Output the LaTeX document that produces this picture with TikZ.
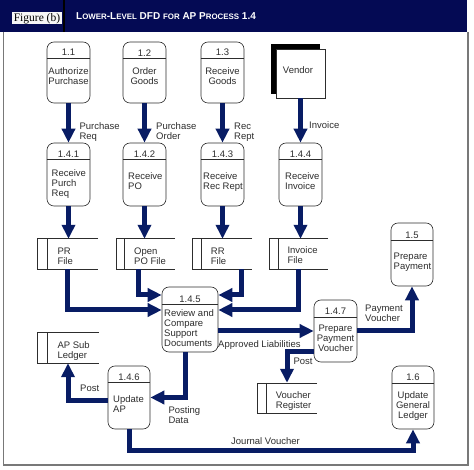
\documentclass[tikz,border=0pt]{standalone}
\usepackage{fontspec}
\setmainfont{Liberation Sans}
\newfontfamily\figserif{Liberation Serif}
\usetikzlibrary{arrows.meta}
\definecolor{flownavy}{RGB}{8,28,100}
\definecolor{barnavy}{RGB}{4,10,84}
\definecolor{inkgray}{RGB}{45,45,45}
\definecolor{framegray}{RGB}{120,120,120}
\newcommand\smallcapsx[1]{{\fontsize{7.9}{8}\selectfont #1}}
\newcommand\dfdproc[8]{%
  \node[procbox, minimum width={(#4-#2)*1pt}, minimum height={(#5-#3)*1pt}] (#1) at ({(#2+#4)/2},{(#3+#5)/2}) {};
  \draw[thinline] (#1.west |- 0,#6) -- (#1.east |- 0,#6);
  \node[numtxt] (#1num) at (#1.north |- 0,#7) {#8};
}
\newcommand\dfdstore[6]{%
  \node[storebox, minimum width={(#4-#2)*1pt}, minimum height={(#5-#3)*1pt}] (#1) at ({(#2+#4)/2},{(#3+#5)/2}) {};
  \draw[thinline] (#1.north east) -- (#1.north west) -- (#1.south west) -- (#1.south east);
  \draw[thinline] (#1.north -| #6,0) -- (#1.south -| #6,0);
}
\begin{document}
\begin{tikzpicture}[x=1pt,y=-1pt,
  font=\fontsize{9.5}{10}\selectfont,
  procbox/.style={draw=inkgray, line width=0.6pt, rounded corners=7pt, inner sep=0pt, fill=white},
  storebox/.style={inner sep=0pt},
  thinline/.style={draw=inkgray, line width=0.6pt},
  numtxt/.style={text=inkgray, inner sep=0pt},
  bodytxt/.style={text=inkgray, inner sep=0pt, align=left, anchor=north west},
  ctrtxt/.style={text=inkgray, inner sep=0pt, align=center, anchor=north},
  lbl/.style={text=inkgray, inner sep=0pt, align=left, anchor=north west},
  flow/.style={draw=flownavy, line width=5pt, -{Triangle[length=14pt,width=13pt]}}]
\useasboundingbox (0,0) rectangle (474,470);
% title bar
\fill[barnavy] (0,0) rectangle (467,32);
\draw[black, line width=1.2pt] (64,0) -- (64,32);
\node[fill=white!93!gray, inner sep=0pt, minimum width=50pt, minimum height=12pt] (figlbl) at (37,18.5) {\figserif\fontsize{11.5}{12}\selectfont Figure (b)};
\node[anchor=base west, text=white, inner sep=0pt] (title) at (76,19.5)
  {\fontsize{10}{10}\selectfont\bfseries L\smallcapsx{OWER}-L\smallcapsx{EVEL} DFD \smallcapsx{FOR} AP P\smallcapsx{ROCESS} 1.4};
% frame
\draw[framegray, line width=1.5pt] (3.5,32) -- (3.5,465) -- (468,465) -- (468,32);

% processes
\dfdproc{p11}{47}{42}{90}{103}{58}{52.5}{1.1}
\dfdproc{p12}{123}{42}{166}{103}{58}{53}{1.2}
\dfdproc{p13}{201}{42}{244}{103}{58}{52.5}{1.3}
\dfdproc{p141}{47}{143}{90}{206}{159}{154}{1.4.1}
\dfdproc{p142}{123}{143}{166}{206}{159}{154}{1.4.2}
\dfdproc{p143}{201}{143}{244}{206}{159}{154}{1.4.3}
\dfdproc{p144}{279}{143}{322}{206}{159}{154}{1.4.4}
\dfdproc{p15}{391}{223}{433}{286}{240}{235}{1.5}
\dfdproc{p145}{162}{287}{218}{352}{304}{299}{1.4.5}
\dfdproc{p147}{314}{300}{357}{362}{317}{311.5}{1.4.7}
\dfdproc{p146}{108}{366}{150}{429}{382}{377.5}{1.4.6}
\dfdproc{p16}{392}{366}{434}{429}{383}{377}{1.6}

\node[ctrtxt] (t11) at (68.5,67.5) {Authorize\\Purchase};
\node[ctrtxt] (t12) at (144.5,67.5) {Order\\Goods};
\node[ctrtxt] (t13) at (222.5,67.5) {Receive\\Goods};
\node[bodytxt] (t141) at (51.5,169.3) {Receive\\Purch\\Req};
\node[bodytxt] (t142) at (128,172.3) {Receive\\PO};
\node[bodytxt] (t143) at (203,172.3) {Receive\\Rec Rept};
\node[bodytxt] (t144) at (285,172) {Receive\\Invoice};
\node[bodytxt] (t15) at (393.5,252.7) {Prepare\\Payment};
\node[bodytxt] (t145) at (164,309.3) {Review and\\Compare\\Support\\Documents};
\node[ctrtxt] (t147) at (335.5,325) {Prepare\\Payment\\Voucher};
\node[bodytxt] (t146) at (113,395) {Update\\AP};
\node[ctrtxt] (t16) at (413,391.7) {Update\\General\\Ledger};

% vendor
\node[fill=black, inner sep=0pt, minimum width=49pt, minimum height=50pt] (vshadow) at (295.5,69) {};
\node[draw=inkgray, fill=white, line width=0.6pt, inner sep=0pt, minimum width=49pt, minimum height=49pt] (vendor) at (300.5,73.5) {};
\node[text=inkgray, inner sep=0pt] (tvendor) at (298,70) {Vendor};

% stores
\dfdstore{sPR}{37}{239}{98}{269}{47}
\dfdstore{sPO}{116}{239}{175}{269}{124}
\dfdstore{sRR}{192}{239}{252}{269}{201}
\dfdstore{sINV}{269}{239}{328}{269}{278}
\dfdstore{sAP}{37}{333}{99}{363}{47}
\dfdstore{sVR}{257}{383}{317}{413}{266}
\node[bodytxt] (tPR) at (57.3,247.3) {PR\\File};
\node[bodytxt] (tPO) at (134,247.3) {Open\\PO File};
\node[bodytxt] (tRR) at (210.7,247.3) {RR\\File};
\node[bodytxt] (tINV) at (287.3,246.7) {Invoice\\File};
\node[bodytxt] (tAP) at (57.3,341) {AP Sub\\Ledger};
\node[bodytxt] (tVR) at (275.7,391) {Voucher\\Register};

% flows
\draw[flow] (p11.south) -- (p141.north);
\draw[flow] (p12.south) -- (p142.north);
\draw[flow] (p13.south) -- (p143.north);
\draw[flow] (vendor.south) -- (p144.north);
\draw[flow] (p141.south) -- (p141.south |- sPR.north);
\draw[flow] (p142.south) -- (p142.south |- sPO.north);
\draw[flow] (p143.south) -- (p143.south |- sRR.north);
\draw[flow] (p144.south) -- (p144.south |- sINV.north);
\draw[flow] (sPR.south) |- (p145.west |- 0,310);
\draw[flow] (sPO.south -| 138,0) |- (p145.west |- 0,295);
\draw[flow] (sRR.south -| 241,0) |- (p145.east |- 0,295);
\draw[flow] (sINV.south -| 298,0) |- (p145.east |- 0,310);
\draw[flow] (p145.east |- p147.west) -- (p147.west);
\draw[flow] (p147.east) -| (p15.south);
\draw[flow] (p147.west |- 0,352) -| (sVR.north);
\draw[flow] (p145.south -| 185,0) |- (p146.east);
\draw[flow] (p146.west |- 0,400) -| (sAP.south);
\draw[flow] (p146.south) -- (p146.south |- 0,450) -| (p16.south);

% flow labels
\node[lbl] (lPR) at (79.3,122.3) {Purchase\\Req};
\node[lbl] (lPO) at (156,122.3) {Purchase\\Order};
\node[lbl] (lRR) at (234,122.3) {Rec\\Rept};
\node[lbl] (lINV) at (309,121.7) {Invoice};
\node[lbl] (lPV) at (365,304.3) {Payment\\Voucher};
\node[lbl] (lAL) at (218,340) {Approved Liabilities};
\node[lbl] (lPost1) at (293.3,357.7) {Post};
\node[lbl] (lPost2) at (80,385) {Post};
\node[lbl] (lPD) at (168.3,406.7) {Posting\\Data};
\node[lbl] (lJV) at (231,437) {Journal Voucher};
\end{tikzpicture}
\end{document}
